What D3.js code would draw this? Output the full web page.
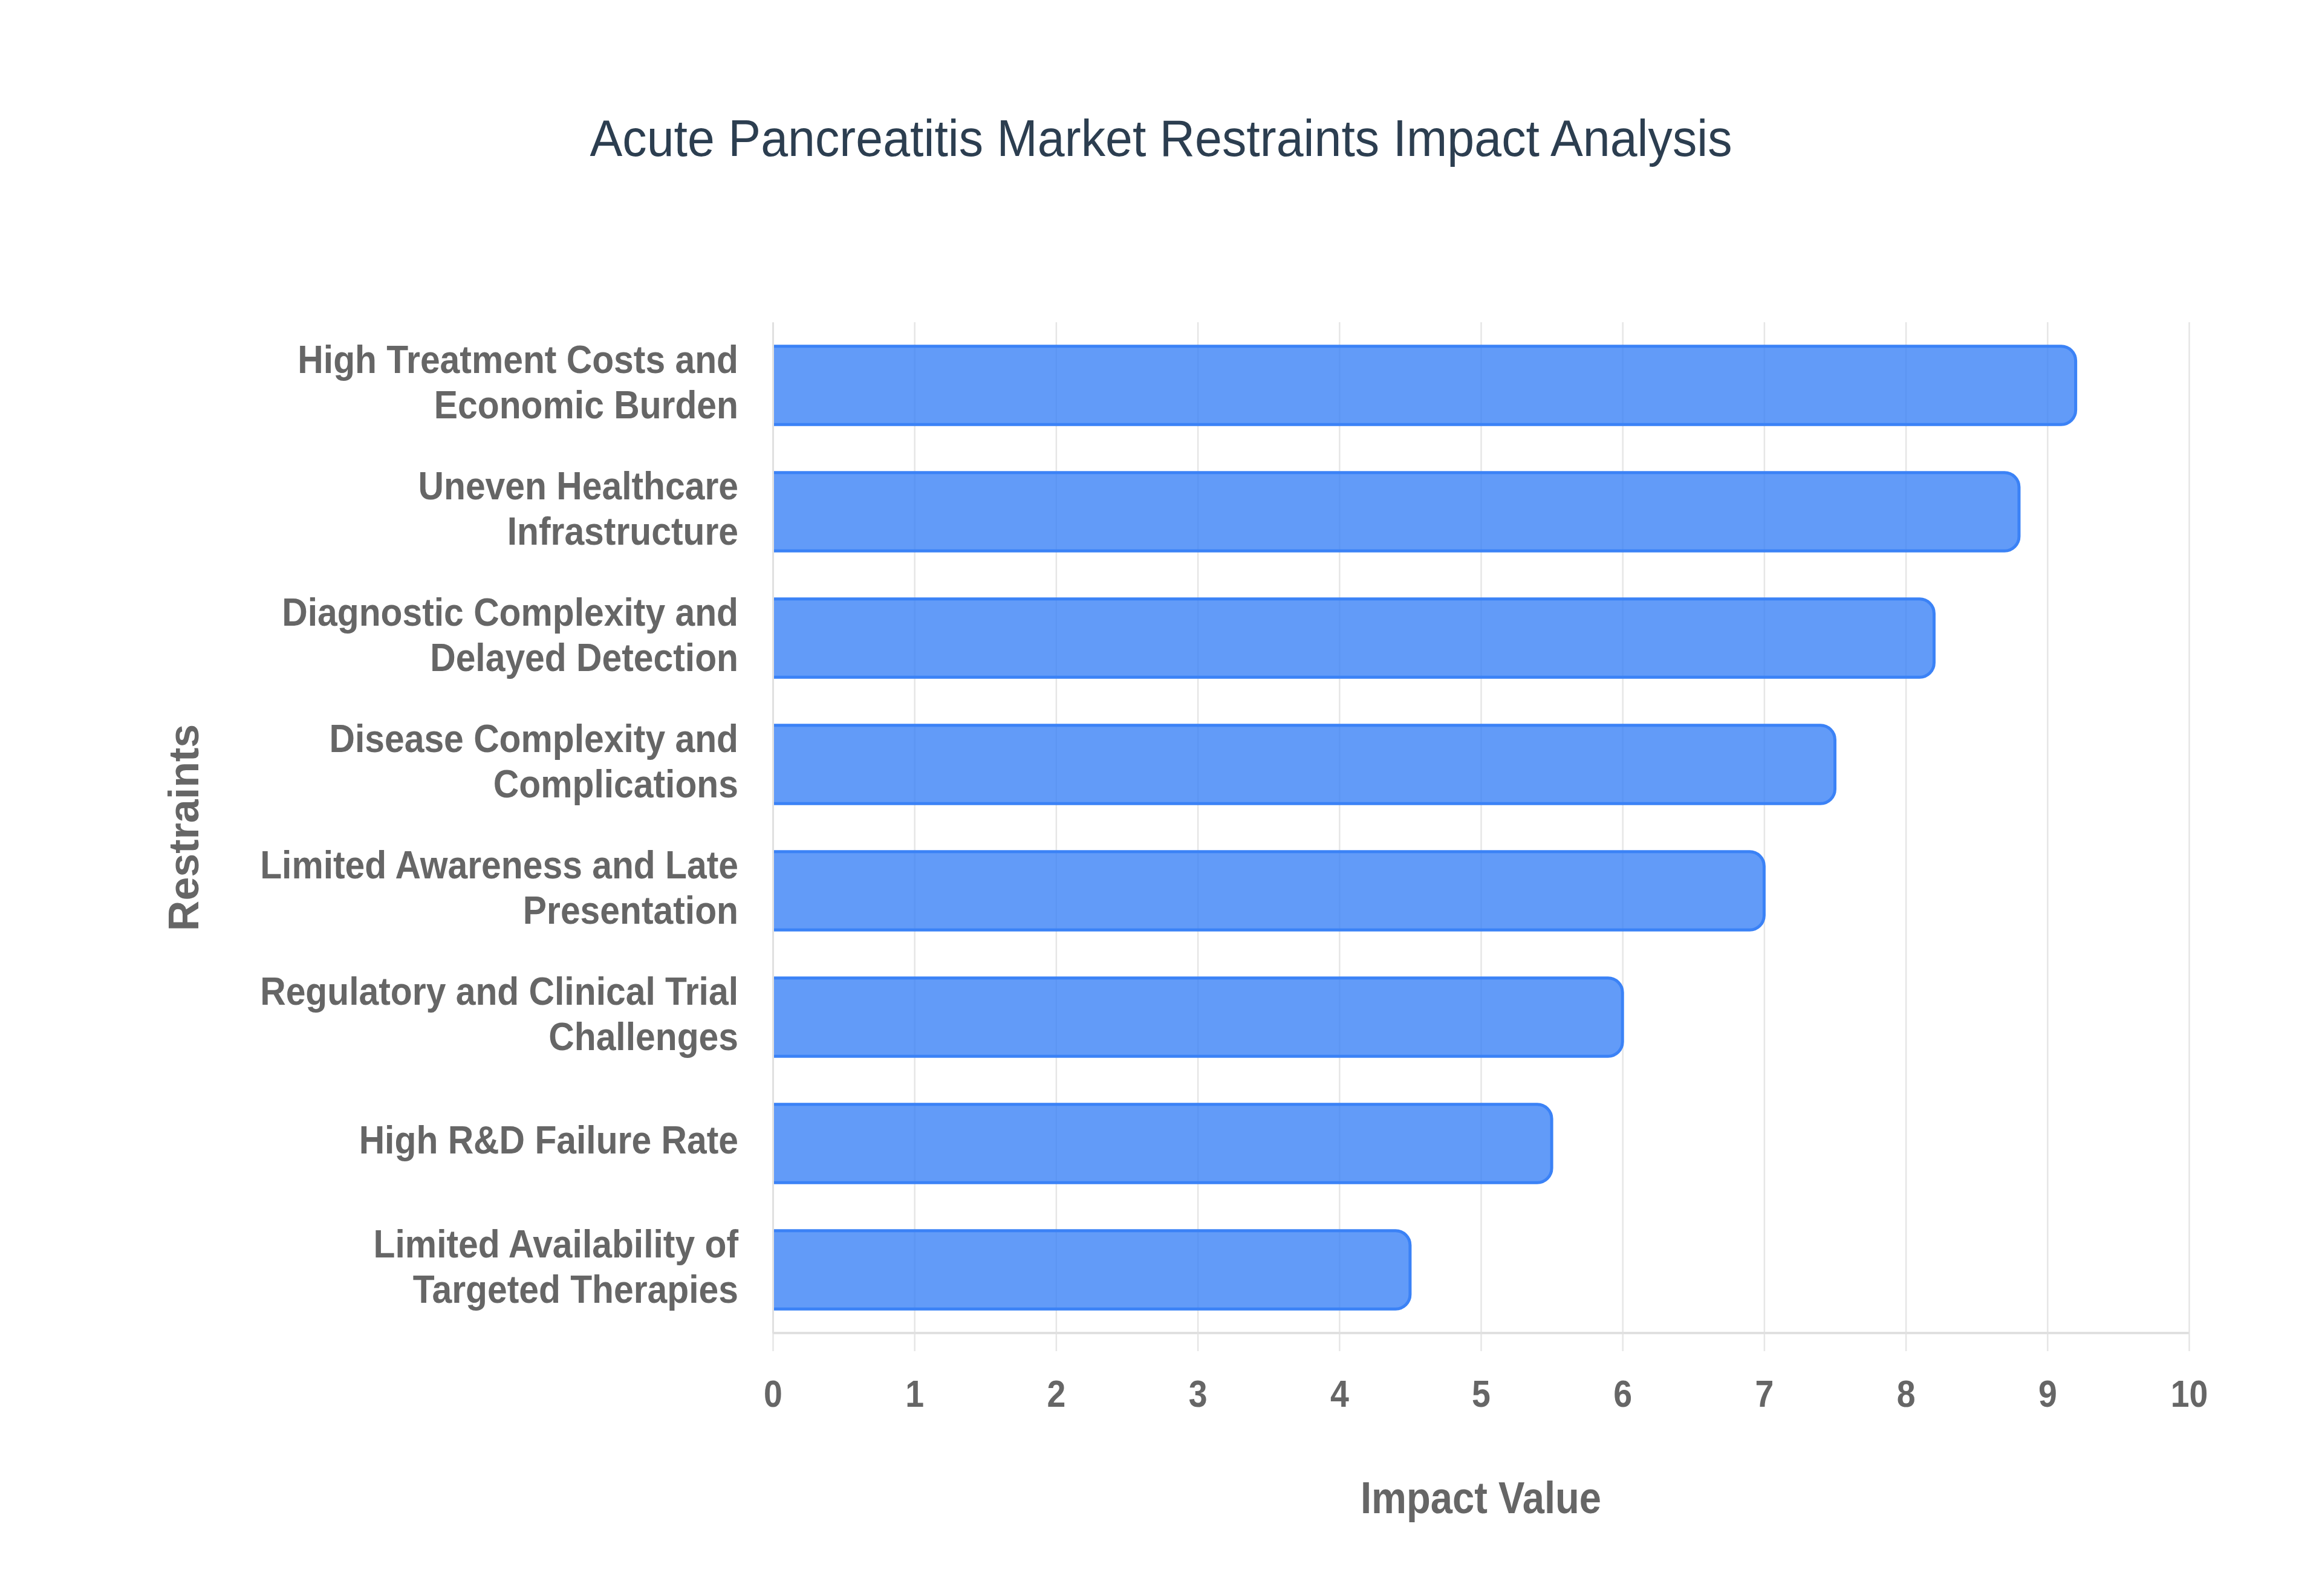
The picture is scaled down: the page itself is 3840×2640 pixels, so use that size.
<!DOCTYPE html>
<html>
<head>
    <meta charset="utf-8">
    <title>Acute Pancreatitis Market Restraints Impact Analysis</title>
    <script src="https://cdn.jsdelivr.net/npm/d3@7"></script>
    <style>
        body { margin: 0; background: #ffffff; }
        text { font-family: "Liberation Sans", Arial, sans-serif; }
    </style>
</head>
<body>
    <script>
        // labels are split into lines like the original chart
        const categories = [
            ["High Treatment Costs and", "Economic Burden"],
            ["Uneven Healthcare", "Infrastructure"],
            ["Diagnostic Complexity and", "Delayed Detection"],
            ["Disease Complexity and", "Complications"],
            ["Limited Awareness and Late", "Presentation"],
            ["Regulatory and Clinical Trial", "Challenges"],
            ["High R&D Failure Rate"],
            ["Limited Availability of", "Targeted Therapies"]
        ];
        const impactValues = [9.2, 8.8, 8.2, 7.5, 7.0, 6.0, 5.5, 4.5];
        const xTicks = [0, 1, 2, 3, 4, 5, 6, 7, 8, 9, 10];

        const chartTitle = "Acute Pancreatitis Market Restraints Impact Analysis";
        const xTitle = "Impact Value";
        const yTitle = "Restraints";

        const width = 3840;
        const height = 2640;
        const margin = { top: 533, right: 220, bottom: 435, left: 1278 };
        const squeeze = 0.88; // the reference text is a bit narrow
        const labelSqueeze = 0.905;

        const keys = categories.map(c => c.join(" "));
        const data = keys.map((k, i) => ({ key: k, lines: categories[i], value: impactValues[i] }));

        const svg = d3.select("body")
            .append("svg")
            .attr("width", width)
            .attr("height", height);

        const x = d3.scaleLinear()
            .domain([0, 10])
            .range([margin.left, width - margin.right]);

        const y = d3.scaleBand()
            .domain(keys)
            .range([margin.top, height - margin.bottom])
            .paddingInner(0.38)
            .paddingOuter(0.19);

        // vertical grid + tick labels
        const xAxis = svg.append("g")
            .attr("transform", `translate(0,${height - margin.bottom})`)
            .call(d3.axisBottom(x)
                .tickValues(xTicks)
                .tickSize(-(height - margin.top - margin.bottom))
                .tickSizeOuter(0)
                .tickPadding(0)
                .tickFormat(d3.format("d")));

        xAxis.select(".domain").remove();
        xAxis.selectAll(".tick line")
            .attr("stroke", "#e6e6e6")
            .attr("stroke-width", 2.5)
            .attr("y2", 30)
            .attr("y1", -(height - margin.top - margin.bottom));
        xAxis.selectAll(".tick text")
            .attr("y", 0)
            .attr("dy", 0)
            .attr("transform", `translate(0,122) scale(${squeeze},1)`)
            .attr("fill", "#666666")
            .attr("font-size", 63)
            .attr("font-weight", "bold");

        // bottom and left axis lines
        svg.append("line")
            .attr("x1", x(0)).attr("x2", x(10))
            .attr("y1", height - margin.bottom).attr("y2", height - margin.bottom)
            .attr("stroke", "#e0e0e0")
            .attr("stroke-width", 4);

        const yAxis = svg.append("g")
            .attr("transform", `translate(${margin.left},0)`)
            .call(d3.axisLeft(y).tickSize(0).tickFormat(""));

        yAxis.select(".domain")
            .attr("stroke", "#e0e0e0")
            .attr("stroke-width", 3);

        const fontSize = 65;
        const lineHeight = 75;

        const labels = svg.append("g")
            .selectAll("g")
            .data(data)
            .join("g")
            .attr("transform", d => `translate(${margin.left - 57},${y(d.key) + y.bandwidth() / 2}) scale(${labelSqueeze},1)`);

        labels.append("text")
            .attr("text-anchor", "end")
            .attr("fill", "#666666")
            .attr("font-size", fontSize)
            .attr("font-weight", "bold")
            .selectAll("tspan")
            .data(d => d.lines.map((l, i) => ({ l, i, n: d.lines.length })))
            .join("tspan")
            .attr("x", 0)
            .attr("y", d => (d.i - (d.n - 1) / 2) * lineHeight + fontSize * 0.26)
            .text(d => d.l);

        // bars: rounded on the value end, no border on the axis side
        const r = 24;
        function barPath(d) {
            const x0 = x(0) + 2;
            const x1 = x(d.value);
            const y0 = y(d.key);
            const y1 = y0 + y.bandwidth();
            return `M${x0},${y0}H${x1 - r}A${r},${r} 0 0 1 ${x1},${y0 + r}` +
                `V${y1 - r}A${r},${r} 0 0 1 ${x1 - r},${y1}H${x0}`;
        }

        svg.append("g")
            .selectAll("path")
            .data(data)
            .join("path")
            .attr("d", barPath)
            .attr("fill", "rgba(59,130,246,0.8)")
            .attr("stroke", "#3b82f6")
            .attr("stroke-width", 5);

        // titles
        svg.append("text")
            .attr("transform", `translate(${width / 2},258) scale(0.95,1)`)
            .attr("text-anchor", "middle")
            .attr("fill", "#2c3e50")
            .attr("font-size", 85)
            .text(chartTitle);

        svg.append("text")
            .attr("transform", `translate(${(x(0) + x(10)) / 2},2503) scale(${squeeze},1)`)
            .attr("text-anchor", "middle")
            .attr("fill", "#666666")
            .attr("font-size", 74)
            .attr("font-weight", "bold")
            .text(xTitle);

        svg.append("text")
            .attr("transform", `translate(328,${(margin.top + height - margin.bottom) / 2}) rotate(-90)`)
            .attr("text-anchor", "middle")
            .attr("fill", "#666666")
            .attr("font-size", 70)
            .attr("font-weight", "bold")
            .text(yTitle);
    </script>
</body>

</html>
